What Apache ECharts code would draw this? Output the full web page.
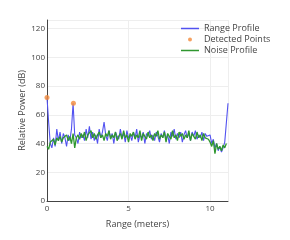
<!DOCTYPE html>
<html>
<head>
<meta charset="utf-8">
<script src="https://cdn.jsdelivr.net/npm/echarts@6/dist/echarts.min.js"></script>
<style>
html, body { margin: 0; padding: 0; background: #fff; }
#chart { width: 290px; height: 240px; }
</style>
</head>
<body>
<div id="chart"></div>
<script>
// range bins are 0.1 m apart, values in dB
var rangeStep = 0.1;
var rangeProfile = [
    72, 55, 40, 37, 44, 38, 50, 42, 48, 40,
    47, 44, 38, 46, 42, 50, 68, 46, 44, 40,
    48, 44, 46, 42, 50, 44, 52, 43, 48, 42,
    46, 40, 50, 44, 48, 55, 46, 42, 49, 44,
    47, 40, 48, 45, 43, 50, 44, 47, 41, 49,
    44, 46, 42, 48, 44, 50, 41, 46, 44, 48,
    40, 47, 45, 49, 43, 46, 42, 48, 45, 41,
    47, 44, 49, 43, 46, 40, 48, 45, 50, 43,
    47, 44, 48, 41, 46, 49, 44, 47, 42, 48,
    45, 49, 43, 46, 44, 48, 42, 47, 45, 44,
    46, 40, 43, 37, 40, 35, 38, 34, 37, 41,
    40, 68
];
var noiseProfile = [
    38, 36, 41, 40, 43, 39, 44, 42, 45, 41,
    44, 43, 46, 42, 45, 40, 47, 37, 44, 46,
    43, 47, 44, 48, 42, 46, 45, 49, 44, 47,
    43, 46, 48, 44, 46, 42, 47, 45, 49, 43,
    46, 44, 48, 42, 45, 47, 43, 49, 44, 46,
    41, 47, 45, 48, 43, 46, 44, 49, 42, 47,
    45, 43, 48, 44, 46, 42, 47, 45, 49, 43,
    46, 44, 48, 41, 47, 45, 43, 49, 44, 46,
    42, 48, 45, 47, 43, 46, 44, 49, 42, 47,
    45, 43, 48, 44, 46, 42, 47, 44, 45, 43,
    41, 38, 42, 33, 40, 36, 38, 35, 39, 37,
    40
];
var detectedRange = [0, 1.62];
var detectedPower = [72, 68];
var xTicks = [0, 5, 10];

function toPairs(values) {
    var out = [];
    for (var i = 0; i < values.length; i++) {
        out.push([+(i * rangeStep).toFixed(2), values[i]]);
    }
    return out;
}

var detected = [];
for (var i = 0; i < detectedRange.length; i++) {
    detected.push([detectedRange[i], detectedPower[i]]);
}

var chart = echarts.init(document.getElementById('chart'));
var font = '"Open Sans", sans-serif';
var lineIcon = 'path://M0,0 h18 v1.5 h-18 z';

chart.setOption({
    animation: false,
    backgroundColor: '#fff',
    textStyle: { fontFamily: font },
    grid: { left: 47, right: 62, top: 20, bottom: 39 },
    legend: {
        orient: 'vertical',
        left: 176,
        top: 19,
        itemWidth: 18,
        itemHeight: 4,
        itemGap: 2,
        textStyle: { fontSize: 9, color: '#444', fontFamily: font },
        data: [
            { name: 'Range Profile', icon: lineIcon },
            { name: 'Detected Points', icon: 'circle' },
            { name: 'Noise Profile', icon: lineIcon }
        ]
    },
    xAxis: {
        type: 'value',
        min: 0,
        max: 11.1,
        interval: 5,
        name: 'Range (meters)',
        nameLocation: 'middle',
        nameGap: 19,
        nameMoveOverlap: false,
        nameTextStyle: { fontSize: 9, color: '#444' },
        axisLine: { lineStyle: { color: '#444', width: 1 } },
        axisTick: { show: false },
        axisLabel: {
            fontSize: 8, color: '#444', margin: 4,
            customValues: xTicks
        },
        splitLine: { lineStyle: { color: '#eee' } }
    },
    yAxis: {
        type: 'value',
        min: 0,
        max: 126,
        interval: 20,
        name: 'Relative Power (dB)',
        nameLocation: 'middle',
        nameGap: 20,
        nameMoveOverlap: false,
        nameTextStyle: { fontSize: 9, color: '#444' },
        axisLine: { show: true, lineStyle: { color: '#444', width: 1 } },
        axisTick: { show: false },
        axisLabel: { fontSize: 8, color: '#444', margin: 2, showMaxLabel: false },
        splitLine: { lineStyle: { color: '#eee' } }
    },
    series: [
        {
            name: 'Range Profile',
            type: 'line',
            data: toPairs(rangeProfile),
            showSymbol: false,
            color: '#5252f0',
            lineStyle: { width: 1.1, color: '#5252f0' },
            z: 2
        },
        {
            name: 'Noise Profile',
            type: 'line',
            data: toPairs(noiseProfile),
            showSymbol: false,
            color: '#2f972f',
            lineStyle: { width: 1.3, color: '#2f972f' },
            z: 3
        },
        {
            name: 'Detected Points',
            type: 'scatter',
            data: detected,
            symbolSize: 5,
            color: '#f28a3a',
            itemStyle: { color: '#f28a3a' },
            z: 4
        }
    ]
});
</script>
</body>
</html>
